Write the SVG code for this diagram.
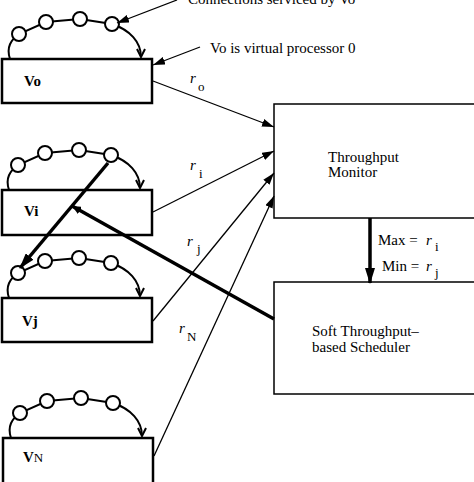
<svg xmlns="http://www.w3.org/2000/svg" width="474" height="482" viewBox="0 0 474 482">
<style>
.box{fill:#fff;stroke:#000;stroke-width:2.5}
.blk{fill:#fff;stroke:#000;stroke-width:1.5}
.t{font-family:"Liberation Serif","Times New Roman",serif;font-size:15px;fill:#000}
.b{font-weight:bold}
.r{font-style:italic}
.sub{font-size:13px}
.thin{stroke:#000;stroke-width:1.3;fill:none}
.thick{stroke:#000;stroke-width:3.5;fill:none}
.loop{stroke:#000;stroke-width:2;fill:none}
.c{fill:#fff;stroke:#000;stroke-width:2}
</style>
<defs>
<marker id="ah" viewBox="0 0 12 8" refX="12" refY="4" markerWidth="12" markerHeight="8" markerUnits="userSpaceOnUse" orient="auto">
<path d="M0,0 L12,4 L0,8 Z" fill="#000"/>
</marker>
<marker id="ahb" viewBox="0 0 16 10" refX="15" refY="5" markerWidth="16" markerHeight="10" markerUnits="userSpaceOnUse" orient="auto">
<path d="M0,0 L16,5 L0,10 Z" fill="#000"/>
</marker>
<marker id="ahs" viewBox="0 0 9 8" refX="9" refY="4" markerWidth="9" markerHeight="8" markerUnits="userSpaceOnUse" orient="auto">
<path d="M0,0 L9,4 L0,8 Z" fill="#000"/>
</marker>
<marker id="ao" viewBox="0 0 10 10" refX="9" refY="5" markerWidth="10" markerHeight="10" markerUnits="userSpaceOnUse" orient="auto">
<path d="M1,1 L9,5 L1,9" fill="none" stroke="#000" stroke-width="2"/>
</marker>
<g id="loopshape">
<path class="loop" d="M10,59 C6,47 11,40 19,34 L46,22 L80,19 L112,24 C130,30 141,42 141,57" marker-end="url(#ao)"/>
<circle class="c" cx="19" cy="34" r="7"/>
<circle class="c" cx="46" cy="22" r="7"/>
<circle class="c" cx="80" cy="19" r="7"/>
<circle class="c" cx="112" cy="24" r="7"/>
</g>
</defs>

<g id="Vo">
<use href="#loopshape"/>
<rect class="box" x="2" y="59" width="150" height="44"/>
<text class="t b" x="24" y="86">Vo</text>
</g>

<g id="Vi">
<use href="#loopshape" transform="translate(-1,131)"/>
<rect class="box" x="2" y="190" width="150" height="45"/>
<text class="t b" x="24" y="216">Vi</text>
</g>

<g id="Vj">
<use href="#loopshape" transform="translate(-1,239)"/>
<rect class="box" x="2" y="298" width="150" height="44"/>
<text class="t b" x="22" y="326">Vj</text>
</g>

<g id="VN">
<use href="#loopshape" transform="translate(1,379)"/>
<rect class="box" x="3" y="438" width="150" height="50"/>
<text class="t b" x="23" y="462">V<tspan class="sub" font-weight="normal">N</tspan></text>
</g>

<g id="monitor">
<rect class="blk" x="274" y="104" width="210" height="114"/>
<text class="t" x="328" y="162">Throughput</text>
<text class="t" x="328" y="177">Monitor</text>
</g>

<g id="scheduler">
<rect class="blk" x="274" y="282" width="210" height="112"/>
<text class="t" x="312" y="336">Soft Throughput–</text>
<text class="t" x="312" y="352">based Scheduler</text>
</g>

<g id="annotations">
<text class="t" x="188" y="4">Connections serviced by Vo</text>
<text class="t" x="210" y="53">Vo is virtual processor 0</text>
</g>

<g id="connectors">
<line class="thin" x1="177" y1="0" x2="117" y2="23" marker-end="url(#ah)"/>
<line class="thin" x1="200" y1="47" x2="153" y2="65" marker-end="url(#ah)"/>
<line class="thin" x1="153" y1="81" x2="274" y2="127" marker-end="url(#ah)"/>
<line class="thin" x1="153" y1="212" x2="274" y2="151" marker-end="url(#ah)"/>
<line class="thin" x1="153" y1="321" x2="274" y2="173" marker-end="url(#ah)"/>
<line class="thin" x1="154" y1="456" x2="274" y2="196" marker-end="url(#ah)"/>
<line class="thick" x1="370" y1="218" x2="370" y2="283" marker-end="url(#ahb)"/>
<line class="thick" x1="108" y1="163" x2="20" y2="268" marker-end="url(#ahb)"/>
<line class="thick" x1="274" y1="319" x2="72" y2="206" marker-end="url(#ahs)"/>
</g>

<g id="labels">
<text class="t r" x="190" y="83">r</text><text class="t sub" x="198" y="91">o</text>
<text class="t r" x="190" y="170">r</text><text class="t sub" x="199" y="178">i</text>
<text class="t r" x="187" y="246">r</text><text class="t sub" x="197" y="253">j</text>
<text class="t r" x="179" y="333">r</text><text class="t sub" x="187" y="341">N</text>
<text class="t" x="378" y="245">Max = </text><text class="t r" x="426" y="245">r</text><text class="t sub" x="435" y="251">i</text>
<text class="t" x="382" y="271">Min = </text><text class="t r" x="426" y="271">r</text><text class="t sub" x="435" y="277">j</text>
</g>
</svg>
